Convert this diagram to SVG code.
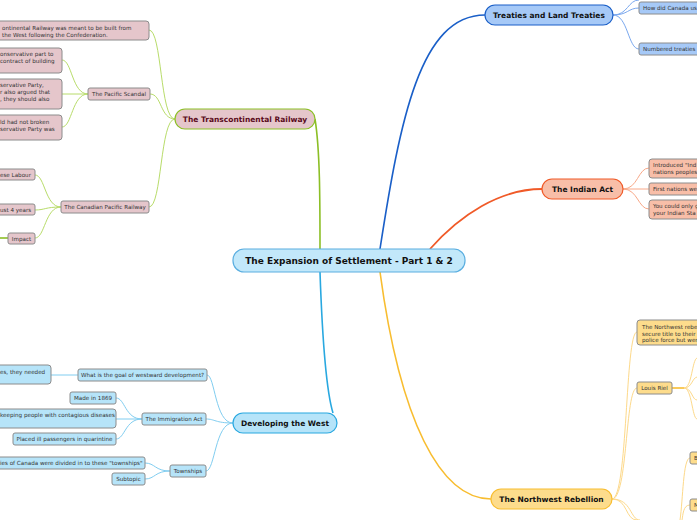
<svg xmlns="http://www.w3.org/2000/svg" width="697" height="520" viewBox="0 0 697 520">
<style>
text{font-family:"DejaVu Sans","Liberation Sans",sans-serif;fill:#333}
.m{font-size:9px;font-weight:bold;fill:#111}
.s{font-size:5.6px}
.r{fill:#e5c6cb;stroke:#8c8c8c;stroke-width:1}
.b{fill:#b6e4f9;stroke:#8c8c8c;stroke-width:1}
.t{fill:#a6c9f7;stroke:#8c8c8c;stroke-width:1}
.o{fill:#f8bea8;stroke:#8c8c8c;stroke-width:1}
.y{fill:#fddc8c;stroke:#8c8c8c;stroke-width:1}
#connectors path{fill:none}
.g{stroke:#b8dc6a;stroke-width:1}
.g2{stroke:#8cbf26;stroke-width:1.6}
.lb{stroke:#80cdf0;stroke-width:1}
.lb2{stroke:#29a8e0;stroke-width:1.6}
.db{stroke:#7aa8ee;stroke-width:1}
.db2{stroke:#1a5fc8;stroke-width:1.6}
.or{stroke:#f8a888;stroke-width:1}
.or2{stroke:#f05a28;stroke-width:1.8}
.yl{stroke:#fdd98a;stroke-width:1}
.yl2{stroke:#f8bd30;stroke-width:1.6}
</style>
<g id="connectors">
<path class="g2" d="M315,119 C320,150 320,200 320,249"/>
<path class="db2" d="M380,249 C400,120 420,15 485,15"/>
<path class="or2" d="M430,249 C460,215 500,189 542,189"/>
<path class="yl2" d="M380,272 C400,420 440,499 491,499"/>
<path class="lb2" d="M320,272 C322,330 326,390 333,413"/>
<path class="g" d="M175,119 C160,119 162,30 149,30"/>
<path class="g" d="M175,119 C160,119 162,94 150,94"/>
<path class="g" d="M175,119 C160,119 162,207 149,207"/>
<path class="g" d="M88,94 C72,94 72,60 62,60"/>
<path class="g" d="M88,94 L62,94"/>
<path class="g" d="M88,94 C72,94 72,127 62,127"/>
<path class="g" d="M61,207 C45,207 45,175 35,175"/>
<path class="g" d="M61,207 C45,207 45,210 35,210"/>
<path class="g" d="M61,207 C45,207 45,238 35,238"/>
<path class="g2" d="M0,238 L8,238"/>
<path class="lb" d="M233,423 C215,423 215,375 207,375"/>
<path class="lb" d="M233,423 C215,423 215,419 206,419"/>
<path class="lb" d="M233,423 C215,423 215,471 206,471"/>
<path class="lb" d="M78,375 L51,375"/>
<path class="lb" d="M142,419 C125,419 125,398 116,398"/>
<path class="lb" d="M142,419 L116,419"/>
<path class="lb" d="M142,419 C125,419 125,439 116,439"/>
<path class="lb" d="M170,471 C155,471 155,463 145,463"/>
<path class="lb" d="M170,471 C155,471 155,479 145,479"/>
<path class="db" d="M613,15 C628,15 628,0 639,0"/>
<path class="db" d="M613,15 C628,15 628,8 639,8"/>
<path class="db" d="M613,15 C628,15 628,49 639,49"/>
<path class="or" d="M623,189 C638,189 638,168 649,168"/>
<path class="or" d="M623,189 L649,189"/>
<path class="or" d="M623,189 C638,189 638,209 649,209"/>
<path class="yl" d="M612,499 C628,499 625,332 637,332"/>
<path class="yl" d="M612,499 C628,499 625,388 637,388"/>
<path class="yl" d="M612,499 C628,499 625,520 637,520"/>
<path class="yl" d="M612,499 C632,499 630,520 640,520"/>
<path class="yl2" d="M672,388 L684,388"/>
<path class="yl" d="M684,388 C692,388 692,360 697,358"/>
<path class="yl" d="M684,388 C692,388 692,378 697,377"/>
<path class="yl" d="M684,388 C692,388 692,400 697,400"/>
<path class="yl" d="M684,388 C692,388 692,418 697,419"/>
<path class="yl" d="M690,458 C683,458 683,500 680,520"/>
<path class="yl" d="M690,505 C683,505 683,515 682,520"/>
</g>
<g id="central"><rect x="233" y="249" width="232" height="23" rx="11" fill="#c2e8fa" stroke="#5aaee0" stroke-width="1.2"/><text class="m" x="349" y="264" text-anchor="middle">The Expansion of Settlement - Part 1 &amp; 2</text></g>
<g id="railway"><rect x="175" y="109" width="140" height="20" rx="10" fill="#e5c6cb" stroke="#8cbf26" stroke-width="1.2"/><text x="245" y="122" text-anchor="middle" style="font-size:7.5px;font-weight:bold;fill:#5a0a1a">The Transcontinental Railway</text></g>
<g id="r1"><rect class="r" x="-10" y="21" width="159" height="19" rx="3"/><text class="s" x="2" y="29.5">ontinental Railway was meant to be built from</text><text class="s" x="2" y="36.5">the West following the Confederation.</text></g>
<g id="pacific"><rect class="r" x="88" y="88" width="62" height="12" rx="2"/><text class="s" x="119" y="96" text-anchor="middle">The Pacific Scandal</text></g>
<g id="p1"><rect class="r" x="-10" y="48" width="72" height="25" rx="3"/><text class="s" x="0" y="56">onservative part to</text><text class="s" x="0" y="63">contract of building</text></g>
<g id="p2"><rect class="r" x="-10" y="79" width="72" height="30" rx="3"/><text class="s" x="0" y="87">servative Party,</text><text class="s" x="0" y="94">r also argued that</text><text class="s" x="0" y="101">, they should also</text></g>
<g id="p3"><rect class="r" x="-10" y="115" width="72" height="25" rx="3"/><text class="s" x="0" y="124">ld had not broken</text><text class="s" x="0" y="131">servative Party was</text></g>
<g id="cpr"><rect class="r" x="61" y="201" width="88" height="12" rx="2"/><text class="s" x="105" y="209" text-anchor="middle">The Canadian Pacific Railway</text></g>
<g id="c1"><rect class="r" x="-10" y="169" width="45" height="11" rx="2"/><text class="s" x="0" y="177">ese Labour</text></g>
<g id="c2"><rect class="r" x="-10" y="204" width="45" height="11" rx="2"/><text class="s" x="0" y="212">ust 4 years</text></g>
<g id="c3"><rect class="r" x="8" y="233" width="27" height="11" rx="2"/><text class="s" x="21.5" y="241" text-anchor="middle">Impact</text></g>
<g id="west"><rect x="233" y="413" width="104" height="20" rx="10" fill="#b6e4f9" stroke="#29a8e0" stroke-width="1.2"/><text x="285" y="426" text-anchor="middle" style="font-size:7.5px;font-weight:bold;fill:#111">Developing the West</text></g>
<g id="goal"><rect class="b" x="78" y="369" width="129" height="12" rx="2"/><text class="s" x="142.5" y="377" text-anchor="middle">What is the goal of westward development?</text></g>
<g id="g1"><rect class="b" x="-10" y="365" width="61" height="19" rx="3"/><text class="s" x="0" y="374">es, they needed</text></g>
<g id="imm"><rect class="b" x="142" y="413" width="64" height="12" rx="2"/><text class="s" x="174" y="421" text-anchor="middle">The Immigration Act</text></g>
<g id="i1"><rect class="b" x="70" y="392" width="46" height="12" rx="2"/><text class="s" x="93" y="400" text-anchor="middle">Made in 1869</text></g>
<g id="i2"><rect class="b" x="-10" y="409" width="126" height="19" rx="3"/><text class="s" x="0" y="417">keeping people with contagious diseases</text></g>
<g id="i3"><rect class="b" x="13" y="433" width="103" height="12" rx="2"/><text class="s" x="64.5" y="441" text-anchor="middle">Placed ill passengers in quarintine</text></g>
<g id="town"><rect class="b" x="170" y="465" width="36" height="12" rx="2"/><text class="s" x="188" y="473" text-anchor="middle">Townships</text></g>
<g id="t1"><rect class="b" x="-10" y="457" width="155" height="12" rx="2"/><text class="s" x="0" y="465">ies of Canada were divided in to these "townships"</text></g>
<g id="t2"><rect class="b" x="112" y="473" width="33" height="12" rx="2"/><text class="s" x="128.5" y="481" text-anchor="middle">Subtopic</text></g>
<g id="treaties"><rect x="485" y="5" width="128" height="20" rx="10" fill="#a6c9f7" stroke="#1a5fc8" stroke-width="1.2"/><text x="549" y="18" text-anchor="middle" style="font-size:7.5px;font-weight:bold;fill:#111">Treaties and Land Treaties</text></g>
<g id="tr1"><rect class="t" x="639" y="2" width="70" height="12" rx="2"/><text class="s" x="643" y="10">How did Canada us</text></g>
<g id="tr2"><rect class="t" x="639" y="43" width="70" height="12" rx="2"/><text class="s" x="643" y="51">Numbered treaties</text></g>
<g id="indian"><rect x="542" y="179" width="81" height="20" rx="10" fill="#f8bea8" stroke="#f05a28" stroke-width="1.2"/><text x="582.5" y="192" text-anchor="middle" style="font-size:7.5px;font-weight:bold;fill:#111">The Indian Act</text></g>
<g id="ia1"><rect class="o" x="649" y="159" width="60" height="19" rx="3"/><text class="s" x="653" y="167">Introduced "Ind</text><text class="s" x="653" y="174">nations peoples</text></g>
<g id="ia2"><rect class="o" x="649" y="183" width="60" height="12" rx="2"/><text class="s" x="653" y="191">First nations we</text></g>
<g id="ia3"><rect class="o" x="649" y="200" width="60" height="19" rx="3"/><text class="s" x="653" y="208">You could only g</text><text class="s" x="653" y="215">your Indian Sta</text></g>
<g id="nw"><rect x="491" y="489" width="121" height="20" rx="10" fill="#fddc8c" stroke="#f8bd30" stroke-width="1.2"/><text x="551.5" y="502" text-anchor="middle" style="font-size:7.5px;font-weight:bold;fill:#111">The Northwest Rebellion</text></g>
<g id="nw1"><rect class="y" x="637" y="320" width="70" height="25" rx="3"/><text class="s" x="642" y="329">The Northwest rebe</text><text class="s" x="642" y="335.5">secure title to their</text><text class="s" x="642" y="342">police force but wer</text></g>
<g id="riel"><rect class="y" x="637" y="382" width="35" height="12" rx="2"/><text class="s" x="654.5" y="390" text-anchor="middle">Louis Riel</text></g>
<g id="nw2"><rect class="y" x="690" y="452" width="12" height="12" rx="2"/><text class="s" x="694" y="460">B</text></g>
<g id="nw3"><rect class="y" x="690" y="499" width="12" height="12" rx="2"/><text class="s" x="694" y="507">M</text></g>
</svg>
